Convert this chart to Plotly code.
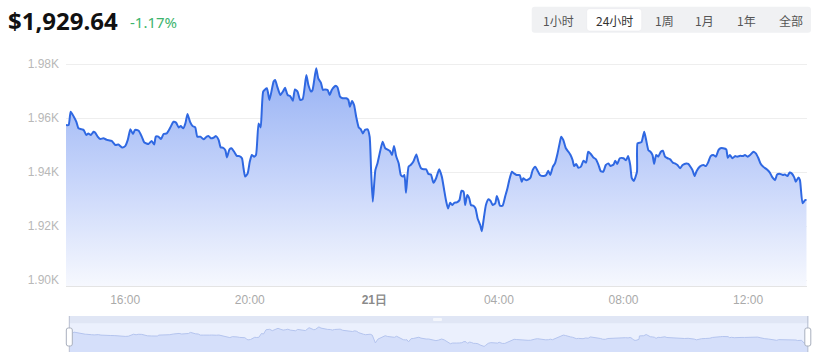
import datetime as dt
import plotly.graph_objects as go

# ---------------- data ----------------
# minutes after 14:00 on the 20th, and price (USD)
minutes_a = [6, 11, 15, 21, 26, 30, 37, 40, 45, 49, 54, 59, 62, 67, 72, 78, 85, 94, 101, 107,
             114, 120, 125, 130, 135, 139, 146, 152, 157, 165, 171, 176, 179, 184, 189, 194, 200, 207, 213, 218,
             223, 227, 232, 236, 240, 245, 250, 255, 259, 265, 271, 277, 281, 285, 290, 295, 300, 304, 308, 313,
             316, 321, 325, 330, 335, 340, 345, 348, 351, 356, 360, 364, 368, 372, 377, 381, 386, 393, 398]
prices_a = [1957.4, 1957.4, 1962.3, 1960.5, 1958.6, 1956.2, 1955.8, 1955.6, 1953.7, 1954.3,
            1953.7, 1954.9, 1954.6, 1953.1, 1952.2, 1952.5, 1951.9, 1951.5, 1950.0, 1950.2,
            1949.1, 1949.6, 1951.9, 1955.8, 1954.1, 1955.6, 1955.3, 1953.1, 1950.9, 1950.4,
            1951.5, 1950.2, 1953.1, 1953.1, 1952.2, 1954.1, 1954.3, 1956.5, 1958.6, 1958.3,
            1956.5, 1957.0, 1956.2, 1958.0, 1961.5, 1958.6, 1957.0, 1956.5, 1953.1, 1953.1,
            1952.1, 1953.1, 1953.3, 1952.5, 1952.7, 1953.3, 1951.9, 1949.1, 1949.0, 1948.1,
            1945.4, 1948.4, 1948.8, 1947.5, 1946.0, 1945.9, 1945.1, 1941.4, 1938.3, 1939.5,
            1943.8, 1946.3, 1945.7, 1946.3, 1958.0, 1956.5, 1969.8, 1971.0, 1966.7]

minutes_b = [406, 409, 413, 419, 424, 428, 433, 438, 443, 447, 452, 457, 462, 469, 473, 478, 481, 488, 492, 497,
             501, 505, 510, 514, 518, 525, 529, 534, 539, 546, 550, 553, 557, 561, 565, 570, 574, 578, 582, 587,
             591, 594, 597, 602, 606, 611, 616, 621, 625, 630, 634, 638, 642, 647, 651, 655, 658, 661, 666, 670,
             675, 681, 685, 690, 695, 700, 704, 709, 714, 719, 725, 730, 734, 738, 742, 746, 750, 754, 759, 764,
             768, 772, 775, 779, 783, 786, 791, 795, 799, 804, 807, 810, 815, 820, 824, 828, 833, 836, 839, 842,
             847, 852, 856, 860, 865, 869, 874, 880, 884, 887, 892, 897, 901, 905, 910, 914, 919]
prices_b = [1973.5, 1974.1, 1971.6, 1968.5, 1969.8, 1971.2, 1968.5, 1968.1, 1966.4, 1970.6,
            1969.8, 1966.7, 1967.0, 1975.9, 1972.2, 1969.8, 1970.4, 1978.4, 1974.7, 1973.1,
            1970.4, 1970.6, 1970.4, 1968.5, 1970.4, 1971.9, 1971.4, 1967.9, 1967.3, 1967.3,
            1966.7, 1964.2, 1966.3, 1964.8, 1960.5, 1956.5, 1955.8, 1954.3, 1955.6, 1955.8,
            1953.1, 1939.5, 1929.0, 1940.7, 1943.2, 1947.5, 1951.2, 1948.8, 1948.4, 1947.8,
            1946.3, 1949.6, 1945.9, 1943.2, 1938.9, 1938.3, 1938.9, 1932.3, 1942.0, 1942.6,
            1943.8, 1946.5, 1943.8, 1941.4, 1941.0, 1941.0, 1939.3, 1939.1, 1936.0, 1937.7,
            1941.0, 1938.3, 1934.0, 1929.6, 1926.5, 1928.6, 1927.8, 1928.6, 1928.8, 1929.6,
            1933.1, 1932.7, 1927.8, 1931.5, 1930.2, 1927.8, 1927.5, 1926.5, 1922.8, 1920.4,
            1918.1, 1921.6, 1927.8, 1929.9, 1929.3, 1927.8, 1928.4, 1931.1, 1929.6, 1927.5,
            1927.5, 1930.9, 1933.6, 1937.0, 1940.1, 1939.5, 1938.9, 1938.9, 1936.4, 1937.7,
            1937.0, 1937.3, 1938.0, 1940.7, 1942.0, 1940.7, 1938.9]

minutes_c = [926, 931, 935, 939, 944, 948, 953, 957, 960, 964, 969, 974, 978, 982, 985, 989, 993, 998, 1003, 1008,
             1012, 1017, 1022, 1027, 1032, 1036, 1041, 1046, 1051, 1055, 1061, 1064, 1068, 1073, 1080, 1085, 1089,
             1093, 1096, 1100, 1106, 1107, 1112, 1115, 1120, 1123, 1128, 1132, 1136, 1139, 1143, 1147, 1152, 1156,
             1160, 1165, 1170, 1175, 1179, 1184, 1189, 1194, 1201, 1205, 1210, 1213, 1217, 1221, 1227, 1234, 1239,
             1243, 1248, 1253, 1258, 1263, 1267, 1272, 1278, 1281, 1285, 1290, 1295, 1299, 1305, 1310, 1314, 1319,
             1324, 1330, 1335, 1340, 1344, 1349, 1356, 1362, 1367, 1372, 1376, 1382, 1387, 1391, 1396, 1400, 1404,
             1409, 1412, 1417, 1420, 1425, 1430, 1433]
prices_c = [1938.5, 1938.9, 1940.5, 1938.9, 1942.0, 1943.2, 1946.9, 1950.6, 1953.1, 1951.9,
            1948.8, 1947.5, 1946.3, 1944.4, 1942.2, 1943.0, 1941.6, 1942.0, 1944.2, 1943.5,
            1947.5, 1946.7, 1945.4, 1944.7, 1942.6, 1940.4, 1940.1, 1942.6, 1943.2, 1942.2,
            1942.8, 1944.2, 1943.0, 1945.1, 1945.1, 1944.4, 1945.9, 1942.6, 1937.7, 1936.7,
            1940.1, 1950.6, 1950.9, 1951.2, 1954.9, 1952.5, 1948.1, 1947.5, 1946.3, 1943.0,
            1946.3, 1945.7, 1947.5, 1947.9, 1945.7, 1945.1, 1944.7, 1943.5, 1943.2, 1942.6,
            1941.4, 1942.6, 1943.2, 1943.0, 1941.7, 1940.7, 1938.5, 1940.4, 1942.0, 1942.6,
            1942.2, 1943.5, 1945.9, 1946.3, 1945.7, 1948.1, 1948.8, 1948.8, 1948.4, 1945.3,
            1946.3, 1945.1, 1945.9, 1945.7, 1946.0, 1945.9, 1946.3, 1945.7, 1946.3, 1947.5,
            1946.9, 1945.1, 1943.2, 1942.0, 1941.0, 1939.8, 1938.0, 1937.0, 1939.1, 1939.3,
            1938.9, 1939.1, 1938.5, 1939.8, 1939.5, 1938.0, 1936.4, 1938.0, 1937.0, 1928.4,
            1929.6, 1929.6]

price_text = "$1,929.64"
change_text = "-1.17%"
range_buttons = ["1小时", "24小时", "1周", "1月", "1年", "全部"]
selected_button = "24小时"

y_tick_vals = [1900, 1920, 1940, 1960, 1980]
y_tick_text = ["1.90K", "1.92K", "1.94K", "1.96K", "1.98K"]
x_tick_hours = [16, 20, 24, 28, 32, 36]  # hours after 00:00 on the 20th
x_tick_text = ["16:00", "20:00", "<b><span style='color:#8a8a8a'>21日</span></b>", "04:00", "08:00", "12:00"]

# ---------------- build ----------------
minutes = minutes_a + minutes_b + minutes_c
prices = prices_a + prices_b + prices_c
assert len(minutes) == len(prices), (len(minutes), len(prices))

base = dt.datetime(2023, 4, 20, 14, 0)
day0 = dt.datetime(2023, 4, 20, 0, 0)
times = [base + dt.timedelta(minutes=m) for m in minutes]
x_tick_vals = [day0 + dt.timedelta(hours=h) for h in x_tick_hours]

W, H = 816, 361


def px(x):
    return x / W


def py(y):
    return 1 - y / H


def rounded_rect(x0, y0, x1, y1, r):
    # pixel coords -> paper path with rounded corners
    X = lambda v: f"{px(v):.6f}"
    Y = lambda v: f"{py(v):.6f}"
    return (f"M {X(x0 + r)} {Y(y0)} L {X(x1 - r)} {Y(y0)} Q {X(x1)} {Y(y0)} {X(x1)} {Y(y0 + r)} "
            f"L {X(x1)} {Y(y1 - r)} Q {X(x1)} {Y(y1)} {X(x1 - r)} {Y(y1)} "
            f"L {X(x0 + r)} {Y(y1)} Q {X(x0)} {Y(y1)} {X(x0)} {Y(y1 - r)} "
            f"L {X(x0)} {Y(y0 + r)} Q {X(x0)} {Y(y0)} {X(x0 + r)} {Y(y0)} Z")


fig = go.Figure()

# main area line
fig.add_trace(go.Scatter(
    x=times, y=prices, mode="lines",
    line=dict(color="#2f68e2", width=2, shape="spline", smoothing=0.5),
    fill="tozeroy",
    fillgradient=dict(type="vertical", start=1897.8, stop=1978,
                      colorscale=[[0, "#f6f8fe"], [0.5, "#c6d4fa"], [1, "#97b2f4"]]),
    hoverinfo="skip", xaxis="x", yaxis="y", showlegend=False,
))

# navigator data shadow
fig.add_trace(go.Scatter(
    x=times, y=prices, mode="lines",
    line=dict(color="#b4c4ee", width=1),
    fill="tozeroy", fillcolor="#d5dffa",
    hoverinfo="skip", xaxis="x2", yaxis="y2", showlegend=False,
))

main_l, main_r, main_t, main_b = 66, 806.7, 50.5, 286
nav_l, nav_r, nav_t, nav_b = 69.3, 808.3, 316, 352

shapes = []
# navigator background + move band
shapes.append(dict(type="rect", xref="paper", yref="paper", x0=px(nav_l), x1=px(nav_r),
                   y0=py(nav_b), y1=py(nav_t), fillcolor="#ebf0fd", line=dict(width=0), layer="below"))
shapes.append(dict(type="rect", xref="paper", yref="paper", x0=px(nav_l), x1=px(nav_r),
                   y0=py(323.3), y1=py(nav_t), fillcolor="#e0e6f5", line=dict(width=0), layer="above"))
# move handle grip
shapes.append(dict(type="path", xref="paper", yref="paper", path=rounded_rect(433, 318, 442, 321, 1),
                   fillcolor="#f4f6fb", line=dict(width=0), layer="above"))
# edge lines and handles
for cx in (nav_l, nav_r - 0.5):
    shapes.append(dict(type="line", xref="paper", yref="paper", x0=px(cx), x1=px(cx),
                       y0=py(nav_t), y1=py(nav_b), line=dict(color="#b8bfd0", width=1), layer="above"))
    shapes.append(dict(type="path", xref="paper", yref="paper", path=rounded_rect(cx - 3, 328, cx + 3, 346, 2),
                       fillcolor="#ffffff", line=dict(color="#a9b0be", width=1), layer="above"))

# range buttons
shapes.append(dict(type="path", xref="paper", yref="paper", path=rounded_rect(531.7, 6.7, 811, 32.7, 3),
                   fillcolor="#f0f1f3", line=dict(width=0), layer="below"))
shapes.append(dict(type="path", xref="paper", yref="paper", path=rounded_rect(586.7, 8.7, 641.7, 31, 3),
                   fillcolor="#ffffff", line=dict(color="#e6e7ea", width=0.5), layer="below"))

btn_centers = [558.3, 614.3, 664, 704.5, 746.7, 790.7]
annotations = []
for label, cx in zip(range_buttons, btn_centers):
    annotations.append(dict(x=px(cx), y=py(20.5), xref="paper", yref="paper", text=label,
                            showarrow=False, xanchor="center", yanchor="middle",
                            font=dict(family="Noto Sans CJK SC", size=12,
                                      color="#333333" if label == selected_button else "#555555")))

annotations.append(dict(x=px(5.5), y=py(20.5), xref="paper", yref="paper", text=f"<b>{price_text}</b>",
                        showarrow=False, xanchor="left", yanchor="middle",
                        font=dict(family="Noto Sans", size=24, color="#111111")))
annotations.append(dict(x=px(127.5), y=py(22.5), xref="paper", yref="paper", text=change_text,
                        showarrow=False, xanchor="left", yanchor="middle",
                        font=dict(family="Noto Sans", size=15, color="#3db46d")))

fig.update_layout(
    width=W, height=H, margin=dict(l=0, r=0, t=0, b=0),
    paper_bgcolor="#ffffff", plot_bgcolor="rgba(0,0,0,0)",
    shapes=shapes, annotations=annotations, hovermode=False,
    xaxis=dict(domain=[px(main_l), px(main_r)], anchor="y", type="date",
               range=[times[0], times[-1]], tickmode="array", tickvals=x_tick_vals, ticktext=x_tick_text,
               showgrid=False, showline=True, linecolor="#e4e4e4", linewidth=1, ticks="",
               ticklabelstandoff=3,
               tickfont=dict(family="Liberation Sans", size=12, color="#aaaaaa"), fixedrange=True,
               zeroline=False),
    yaxis=dict(domain=[py(main_b), py(main_t)], anchor="x", range=[1897.8, 1985],
               tickmode="array", tickvals=y_tick_vals, ticktext=y_tick_text,
               showgrid=True, gridcolor="#eeeeee", gridwidth=1, showline=False, zeroline=False,
               ticks="", ticklabelstandoff=6,
               tickfont=dict(family="Liberation Sans", size=12, color="#b8b8b8"), fixedrange=True),
    xaxis2=dict(domain=[px(nav_l), px(nav_r)], anchor="y2", type="date",
                range=[times[0], times[-1]], visible=False, fixedrange=True),
    yaxis2=dict(domain=[py(nav_b), py(nav_t)], anchor="x2", range=[1901, 2012],
                visible=False, fixedrange=True),
)

fig.write_html("out.html", config=dict(displayModeBar=False, staticPlot=True))
